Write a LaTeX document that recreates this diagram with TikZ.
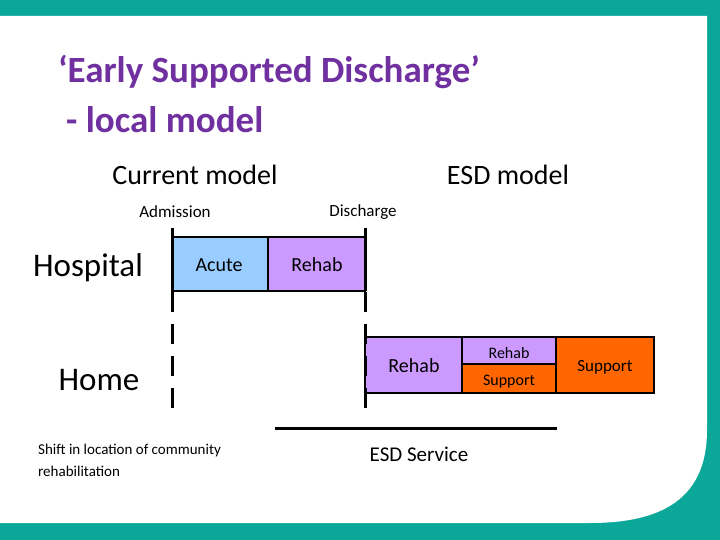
\documentclass[tikz,border=0pt]{standalone}
\usepackage{fontspec}
\setmainfont{Carlito}
\definecolor{teal1}{HTML}{0BA89A}
\definecolor{ttl}{HTML}{7030A0}
\definecolor{blue1}{HTML}{99CCFF}
\definecolor{purp}{HTML}{CC99FF}
\definecolor{orng}{HTML}{FF6600}
\begin{document}
\begin{tikzpicture}[x=1pt,y=-1pt,
  box/.style={draw=black,line width=2.5pt,inner sep=0pt},
  dashline/.style={line width=3pt,dash pattern=on 20pt off 12pt},
  lbl/.style={inner sep=0pt,anchor=base}]
\useasboundingbox (0,0) rectangle (720,540);
\fill[teal1] (0,0) rectangle (720,540);
\fill[white] (0,16) -- (707,16) -- (707,430) .. controls (707,500) and (660,523) .. (590,523) -- (0,523) -- cycle;
\node[lbl,anchor=base west,text=ttl,font=\bfseries\fontsize{37}{40}\selectfont] (t1) at (58,83) {‘Early Supported Discharge’};
\node[lbl,anchor=base west,text=ttl,font=\bfseries\fontsize{37}{40}\selectfont] (t2) at (66,133) {- local model};
\node[lbl,font=\fontsize{28}{30}\selectfont] (cm) at (195,185) {Current model};
\node[lbl,font=\fontsize{28}{30}\selectfont] (em) at (508,185) {ESD model};
\node[lbl,font=\fontsize{17}{19}\selectfont] (adm) at (175,218) {Admission};
\node[lbl,font=\fontsize{17}{19}\selectfont] (dis) at (363,217) {Discharge};
\node[lbl,font=\fontsize{33}{35}\selectfont] (hos) at (88,276) {Hospital};
\node[lbl,font=\fontsize{33}{35}\selectfont] (home) at (99,390) {Home};
\draw[box,fill=blue1] (172,237) rectangle (268,291);
\node[lbl,font=\fontsize{20}{22}\selectfont] (acute) at (219,271) {Acute};
\draw[box,fill=purp] (268,237) rectangle (365,291);
\node[lbl,font=\fontsize{20}{22}\selectfont] (rh1) at (317,271) {Rehab};
\draw[box,fill=purp] (365,337) rectangle (462,393);
\node[lbl,font=\fontsize{20}{22}\selectfont] (rh2) at (414,372) {Rehab};
\draw[box,fill=purp] (462,337) rectangle (556,364);
\node[lbl,font=\fontsize{16}{18}\selectfont] (rh3) at (509,358) {Rehab};
\draw[box,fill=orng] (462,364) rectangle (556,393);
\node[lbl,font=\fontsize{16}{18}\selectfont] (sp1) at (509,385) {Support};
\draw[box,fill=orng] (556,337) rectangle (654,393);
\node[lbl,font=\fontsize{17}{19}\selectfont] (sp2) at (605,371) {Support};
\draw[dashline] (172,228) -- (172,412);
\draw[dashline] (365,228) -- (365,412);
\draw[line width=3pt] (172,228) -- (172,291);
\draw[line width=3pt] (365,228) -- (365,291);
\coordinate (l1) at (275,428); \coordinate (l2) at (557,428);
\draw[line width=3pt] (l1) -- (l2);
\node[lbl,font=\fontsize{21}{23}\selectfont] (esd) at (419,461) {ESD Service};
\node[lbl,anchor=base west,font=\fontsize{15}{17}\selectfont] (sh1) at (38,454) {Shift in location of community};
\node[lbl,anchor=base west,font=\fontsize{15}{17}\selectfont] (sh2) at (38,476) {rehabilitation};
\end{tikzpicture}
\end{document}
